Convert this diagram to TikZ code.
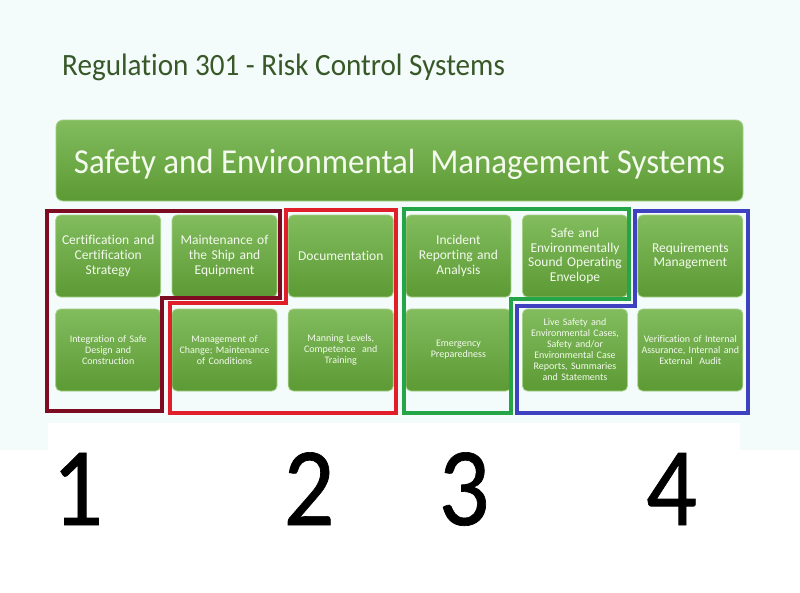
\documentclass[tikz,border=0pt]{standalone}
\usepackage{fontspec}
\setmainfont{Carlito}
\newfontfamily\carlito[Ligatures=NoCommon]{Carlito}
\newfontfamily\carlitoc[FakeStretch=0.94,Ligatures=NoCommon]{Carlito}
\newfontfamily\carlitod[FakeStretch=0.9,FakeBold=0.6]{Carlito}
\definecolor{bgcyan}{RGB}{244,251,251}
\definecolor{gtop}{RGB}{130,188,94}
\definecolor{gbot}{RGB}{92,154,52}
\definecolor{boxedge}{RGB}{165,208,135}
\definecolor{boxtext}{RGB}{244,250,238}
\definecolor{titlegreen}{RGB}{56,88,40}
\definecolor{odarkred}{RGB}{125,11,34}
\definecolor{ored}{RGB}{225,31,43}
\definecolor{ogreen}{RGB}{35,165,72}
\definecolor{oblue}{RGB}{63,66,192}
\tikzset{
  box/.style={draw=boxedge, line width=0.8pt, rounded corners=5pt,
    top color=gtop, bottom color=gbot, minimum width=105pt, minimum height=82pt,
    inner sep=0pt, text width=103pt, align=center, text=boxtext},
  bigtext/.style={font=\carlito\fontsize{13.5}{14.7}\selectfont},
  smalltext/.style={font=\carlito\fontsize{10}{11}\selectfont},
  outline/.style={line width=4pt, line join=miter},
  digit/.style={anchor=base, inner sep=0pt, font=\carlitod\fontsize{112}{116}\selectfont, text=black}
}
\begin{document}
\begin{tikzpicture}[x=1pt,y=-1pt]
\useasboundingbox (0,0) rectangle (800,592);
% background
\fill[bgcyan] (0,0) rectangle (800,450);
\fill[white] (48,423) rectangle (740,592);
\fill[white] (0,450) rectangle (800,592);
% title
\node[anchor=base west, inner sep=0pt, text=titlegreen, font=\carlitoc\fontsize{31}{34}\selectfont] (title) at (62,75) {Regulation 301 - Risk Control Systems};
% banner
\node[draw=boxedge, line width=0.8pt, rounded corners=7pt, top color=gtop, bottom color=gbot,
  minimum width=687pt, minimum height=81pt, inner sep=0pt] (banner) at (399.5,160.5) {};
\node[anchor=base, inner sep=0pt, text=boxtext, font=\carlitoc\fontsize{35}{38}\selectfont] (bannertext) at (399.5,173) {Safety and Environmental\ \ Management Systems};
% row 1
\node[box, bigtext] (b11) at (108.2,256) {Certification and\\Certification\\Strategy};
\node[box, bigtext] (b12) at (224.5,256) {Maintenance of\\the Ship and\\Equipment};
\node[box, bigtext] (b13) at (340.8,256) {Documentation};
\node[box, bigtext] (b14) at (458.4,256) {Incident\\Reporting and\\Analysis};
\node[box, bigtext] (b15) at (575,256) {Safe and\\Environmentally\\Sound Operating\\Envelope};
\node[box, bigtext] (b16) at (690.3,256) {Requirements\\Management};
% row 2
\node[box, smalltext] (b21) at (108.2,350) {Integration of Safe\\Design and\\Construction};
\node[box, smalltext] (b22) at (224.5,350) {Management of\\Change; Maintenance\\of Conditions};
\node[box, smalltext] (b23) at (340.8,350) {Manning Levels,\\Competence\ \ and\\Training};
\node[box, smalltext] (b24) at (458.4,350) {Emergency\\Preparedness};
\node[box, smalltext] (b25) at (575,350) {Live Safety and\\Environmental Cases,\\Safety and/or\\Environmental Case\\Reports, Summaries\\and Statements};
\node[box, smalltext] (b26) at (690.3,350) {Verification\ of Internal\\Assurance, Internal and\\External\ \ Audit};
% outlines
\draw[outline, odarkred] (46.5,211) -- (280,211) -- (280,298) -- (162,298) -- (162,410.5) -- (46.5,410.5) -- cycle;
\draw[outline, ored] (285.5,209.5) -- (395.5,209.5) -- (395.5,412.5) -- (170,412.5) -- (170,302.5) -- (285.5,302.5) -- cycle;
\draw[outline, ogreen] (404,209) -- (628.5,209) -- (628.5,299) -- (510.5,299) -- (510.5,412.5) -- (404,412.5) -- cycle;
\draw[outline, oblue] (634.5,210.5) -- (747.5,210.5) -- (747.5,412.5) -- (516.5,412.5) -- (516.5,305.5) -- (634.5,305.5) -- cycle;
% digits
\node[digit] (n1) at (77.5,525) {1};
\node[digit] (n2) at (309,525) {2};
\node[digit] (n3) at (464,525) {3};
\node[digit] (n4) at (671.5,525) {4};
\end{tikzpicture}
\end{document}
